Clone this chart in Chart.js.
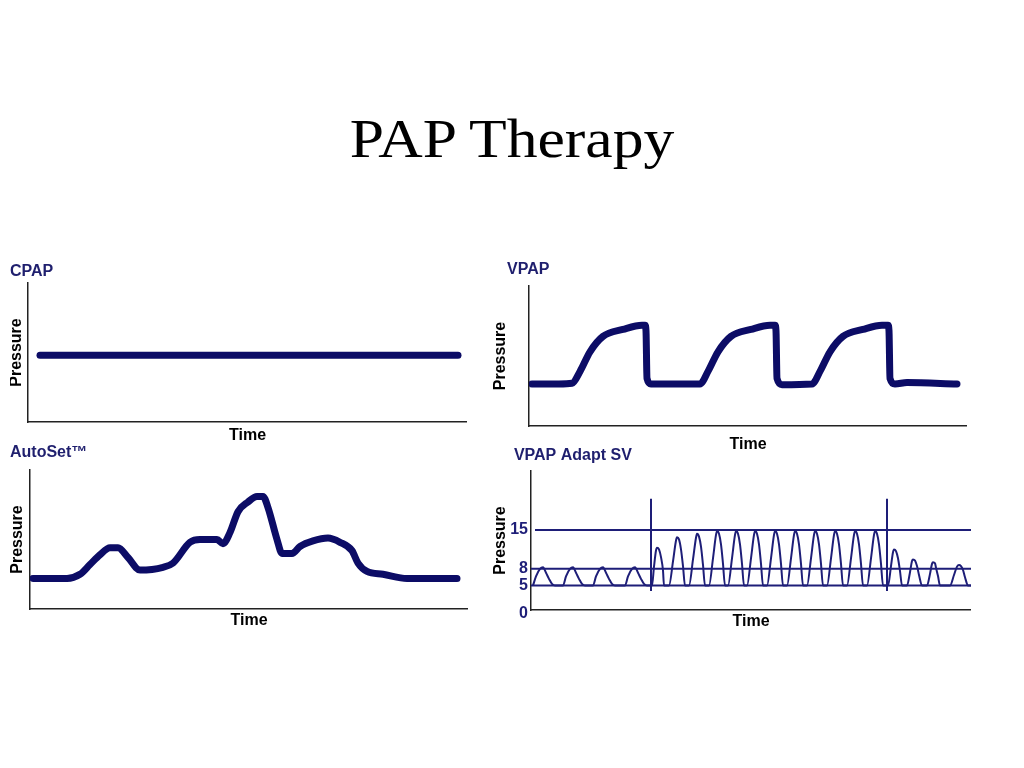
<!DOCTYPE html>
<html>
<head>
<meta charset="utf-8">
<title>PAP Therapy</title>
<script src="https://cdn.jsdelivr.net/npm/chart.js@4.4.0/dist/chart.umd.min.js"></script>
<style>
  body { margin: 0; background: #fff; }
  #page { position: relative; width: 1024px; height: 768px; overflow: hidden; }
  h1 { position: absolute; left: 0; top: 111px; width: 1024px; margin: 0; text-align: center;
       font: normal 55px/55px "Liberation Serif", "Times New Roman", serif; color: #000;
       transform: scaleX(1.12); transform-origin: 512px 0; }
  canvas { position: absolute; }
</style>
</head>
<body>
<div id="page">
  <h1>PAP Therapy</h1>
  <canvas id="cpap" width="457" height="180" style="left:10px;top:264px"></canvas>
  <canvas id="vpap" width="474" height="191" style="left:493px;top:262px"></canvas>
  <canvas id="autoset" width="458" height="184" style="left:10px;top:445px"></canvas>
  <canvas id="adapt" width="478" height="182" style="left:493px;top:448px"></canvas>
</div>
<script>
// values; time has no ticks so it is in arbitrary units
let cpapTime = [12, 430];
let cpapPressure = [4.8, 4.8];

let vpapTime = [3, 30, 43, 51, 61, 74, 94, 113, 116, 117, 118, 122,
                171, 179, 189, 202, 222, 241, 246, 247, 248, 253,
                283, 291, 301, 314, 334, 353, 359, 360, 361, 366, 378, 428];
let vpapPressure = [3.0, 3.0, 3.05, 3.9, 5.3, 6.4, 6.9, 7.2, 7.2, 6.8, 3.4, 3.0,
                    3.0, 3.9, 5.3, 6.4, 6.9, 7.2, 7.2, 6.8, 3.4, 2.95,
                    3.0, 3.9, 5.3, 6.4, 6.9, 7.2, 7.2, 6.8, 3.4, 3.0, 3.1, 3.0];

let autoTime = [3, 37, 50, 60, 70, 80, 88, 98, 110, 133, 143, 160, 170, 187, 193, 200, 208,
                218, 227, 233, 238, 247, 252, 262, 270, 283, 298, 310, 322, 328, 337, 353, 377, 427];
let autoPressure = [2.2, 2.2, 2.5, 3.2, 3.9, 4.4, 4.4, 3.7, 2.8, 3.0, 3.3, 4.8, 5.0, 5.0, 4.7, 5.5, 7.0,
                    7.7, 8.1, 8.1, 7.3, 5.0, 4.0, 4.0, 4.5, 4.9, 5.1, 4.8, 4.2, 3.3, 2.7, 2.5, 2.2, 2.2];

let svTime = [
  2, 5, 9, 12, 15, 18, 21, 24,
  32, 35, 39, 42, 45, 48, 51, 54,
  62, 65, 69, 72, 75, 78, 81, 84,
  94, 97, 101, 104, 107, 110, 113, 116, 120,
  121, 123, 125, 126, 128, 130, 132, 133,
  138, 142, 145, 146, 148, 150, 152, 154,
  158, 162, 165, 166, 168, 170, 172, 174,
  178, 182, 185, 186, 188, 190, 192, 194,
  197, 201, 204, 205, 207, 209, 211, 213,
  216, 220, 223, 224, 226, 228, 230, 232,
  236, 240, 243, 244, 246, 248, 250, 252,
  256, 260, 263, 264, 266, 268, 270, 272,
  276, 280, 283, 284, 286, 288, 290, 292,
  296, 300, 303, 304, 306, 308, 310, 312,
  316, 320, 323, 324, 326, 328, 330, 332,
  336, 340, 343, 344, 346, 348, 350, 352, 356,
  357, 360, 362, 363, 365, 367, 369, 371,
  376, 379, 381, 382, 384, 386, 388, 391,
  396, 399, 401, 402, 404, 405, 407, 409,
  419, 423, 426, 428, 430, 432, 434, 437, 442
];
let svPressure = [
  5.0, 6.65, 8.0, 8.3, 7.3, 6.2, 5.3, 5.0,
  5.0, 6.65, 8.0, 8.3, 7.3, 6.2, 5.3, 5.0,
  5.0, 6.65, 8.0, 8.3, 7.3, 6.2, 5.3, 5.0,
  5.0, 6.65, 8.0, 8.3, 7.3, 6.2, 5.3, 5.0, 5.0,
  5.0, 8.4, 11.3, 11.8, 11.5, 10.1, 7.7, 5.0,
  5.0, 9.35, 13.1, 13.7, 13.3, 11.5, 8.5, 5.0,
  5.0, 9.7, 13.6, 14.3, 13.8, 12.0, 8.7, 5.0,
  5.0, 9.9, 14.1, 14.8, 14.3, 12.4, 8.9, 5.0,
  5.0, 9.9, 14.1, 14.8, 14.3, 12.4, 8.9, 5.0,
  5.0, 9.9, 14.1, 14.8, 14.3, 12.4, 8.9, 5.0,
  5.0, 9.9, 14.1, 14.8, 14.3, 12.4, 8.9, 5.0,
  5.0, 9.9, 14.1, 14.8, 14.3, 12.4, 8.9, 5.0,
  5.0, 9.9, 14.1, 14.8, 14.3, 12.4, 8.9, 5.0,
  5.0, 9.9, 14.1, 14.8, 14.3, 12.4, 8.9, 5.0,
  5.0, 9.9, 14.1, 14.8, 14.3, 12.4, 8.9, 5.0,
  5.0, 9.9, 14.1, 14.8, 14.3, 12.4, 8.9, 5.0, 5.0,
  5.0, 8.5, 11.0, 11.5, 11.2, 9.9, 7.6, 5.0,
  5.0, 7.4, 9.4, 9.7, 9.5, 8.5, 6.9, 5.0,
  5.0, 7.1, 8.9, 9.2, 9.0, 8.2, 6.7, 5.0,
  5.0, 6.9, 8.4, 8.7, 8.5, 7.8, 6.5, 5.0, 5.0
];
let svTicks = [0, 5, 8, 15];
let svLimits = [5, 8, 15];          // horizontal pressure lines
let svLimitStart = [0, 0, 4];
let svSwitch = [120, 356];          // vertical markers
let svSwitchRange = [4, 20.6];

Chart.defaults.font.family = "'Liberation Sans', Arial, sans-serif";
Chart.defaults.animation = false;

const navy = '#0c0c66';
const svBlue = '#1e1e78';
const labelFont = { size: 16, weight: 'bold', lineHeight: 1 };

function toPoints(xs, ys) {
  return xs.map(function (x, i) { return { x: x, y: ys[i] }; });
}

function thickLine(xs, ys) {
  return {
    data: toPoints(xs, ys),
    borderColor: navy,
    borderWidth: 7,
    borderCapStyle: 'round',
    borderJoinStyle: 'round',
    cubicInterpolationMode: 'monotone',
    pointRadius: 0
  };
}

function makePanel(id, p) {
  let yScale = {
    type: 'linear',
    min: p.yMin, max: p.yMax,
    grid: { display: false, drawTicks: false },
    border: { display: true, color: '#222', width: 1.5 },
    ticks: { display: false },
    title: { display: true, text: 'Pressure', color: '#000', font: labelFont,
             padding: { top: p.pressureShift, bottom: 0 } },
    afterFit: function (axis) { axis.width = p.yWidth; }
  };
  if (p.yTicks) {
    yScale.ticks = { display: true, autoSkip: false, padding: 3, color: svBlue,
                     font: { size: 16, weight: 'bold', lineHeight: 1 } };
    yScale.afterBuildTicks = function (axis) {
      axis.ticks = p.yTicks.map(function (v) { return { value: v }; });
    };
  }

  return new Chart(document.getElementById(id), {
    type: 'line',
    data: { datasets: p.datasets },
    options: {
      responsive: false,
      layout: { autoPadding: false, padding: { left: p.padLeft || 0, top: 0, right: 0, bottom: 0 } },
      plugins: {
        legend: { display: false },
        tooltip: { enabled: false },
        title: {
          display: true,
          text: p.title,
          align: 'start',
          color: '#1f1f6e',
          font: labelFont,
          padding: { top: 0, bottom: p.titleGap }
        }
      },
      scales: {
        x: {
          type: 'linear',
          min: 0, max: p.xMax,
          grid: { display: false, drawTicks: false },
          border: { display: true, color: '#222', width: 1.5 },
          ticks: { display: false },
          title: { display: true, text: 'Time', color: '#000', font: labelFont, padding: 0 },
          afterFit: function (axis) { axis.height = p.xHeight; }
        },
        y: yScale
      }
    }
  });
}

makePanel('cpap', {
  title: 'CPAP', titleGap: 3, xMax: 439, xHeight: 22, yWidth: 18, pressureShift: -1,
  yMin: 0, yMax: 10,
  datasets: [thickLine(cpapTime, cpapPressure)]
});

makePanel('vpap', {
  title: 'VPAP', titleGap: 8, padLeft: 14, xMax: 438, xHeight: 27, yWidth: 22, pressureShift: -14,
  yMin: 0, yMax: 10,
  datasets: [thickLine(vpapTime, vpapPressure)]
});

makePanel('autoset', {
  title: 'AutoSet\u2122', titleGap: 9, xMax: 438, xHeight: 20, yWidth: 20, pressureShift: 0,
  yMin: 0, yMax: 10,
  datasets: [thickLine(autoTime, autoPressure)]
});

let svSets = [{
  data: toPoints(svTime, svPressure),
  borderColor: svBlue,
  borderWidth: 2,
  cubicInterpolationMode: 'monotone',
  pointRadius: 0,
  clip: false
}];
svLimits.forEach(function (v, i) {
  svSets.push({
    data: [{ x: svLimitStart[i], y: v }, { x: 442, y: v }],
    borderColor: svBlue, borderWidth: 2, pointRadius: 0, clip: false
  });
});
svSwitch.forEach(function (t) {
  svSets.push({
    data: [{ x: t, y: svSwitchRange[0] }, { x: t, y: svSwitchRange[1] }],
    borderColor: svBlue, borderWidth: 2, pointRadius: 0, clip: false
  });
});

// the tick labels need the axis box to start further left than the heading,
// so the heading is nudged right with two leading spaces
makePanel('adapt', {
  title: '  VPAP Adapt SV', titleGap: 7, padLeft: 12, xMax: 440, xHeight: 20, yWidth: 26, pressureShift: -12,
  yMin: 0.6, yMax: 25.6, yTicks: svTicks,
  datasets: svSets
});
</script>
</body>
</html>
